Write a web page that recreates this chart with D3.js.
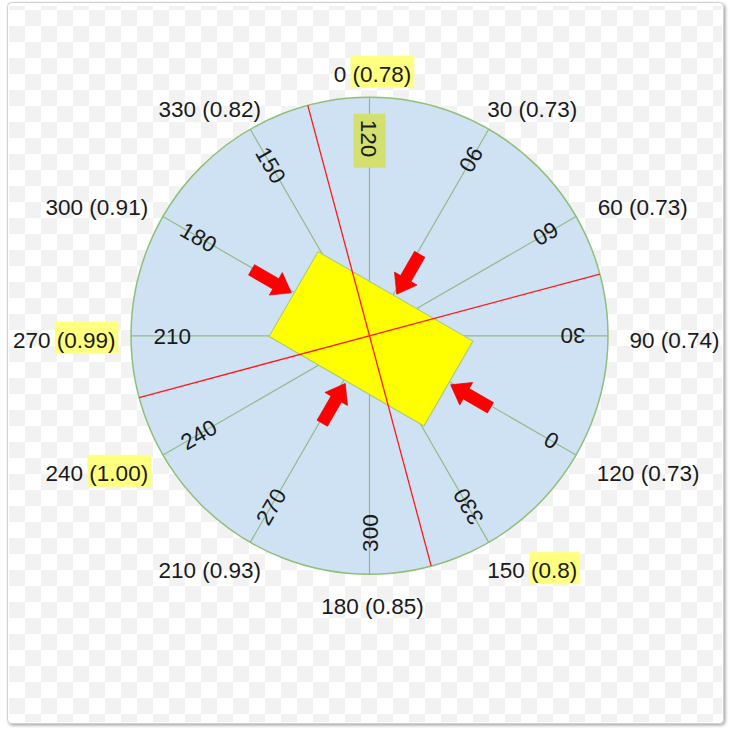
<!DOCTYPE html>
<html>
<head>
<meta charset="utf-8">
<script src="https://cdn.jsdelivr.net/npm/d3@7"></script>
<style>
  html, body { margin: 0; padding: 0; background: #ffffff; }
  svg { display: block; }
  text { font-family: "Liberation Sans", Arial, sans-serif; fill: #1a1a1a; }
</style>
</head>
<body>
<svg id="chart" width="730" height="730"></svg>
<script>
// ---------------- data ----------------
const spokeBearings = [0, 30, 60, 90, 120, 150, 180, 210, 240, 270, 300, 330];
const innerLabels = ["120", "90", "60", "30", "0", "330", "300", "270", "240", "210", "180", "150"];
const innerHighlighted = [true, false, false, false, false, false, false, false, false, false, false, false];
const outerAngles = ["0", "30", "60", "90", "120", "150", "180", "210", "240", "270", "300", "330"];
const outerValues = ["0.78", "0.73", "0.73", "0.74", "0.73", "0.8", "0.85", "0.93", "1.00", "0.99", "0.91", "0.82"];
const outerHighlighted = [true, false, false, false, false, true, false, false, true, true, false, false];
const axisBearings = [75, 165];          // red lines
const buildingBearing = 120;             // long axis of the yellow rectangle
const buildingLength = 0.75;             // fraction of radius
const buildingWidth = 0.411;             // fraction of radius
const arrowBearings = [120, 210, 300, 30];

// ---------------- layout ----------------
const W = 730, H = 730;
const cx = 369.5, cy = 335.8, R = 238.5;
const bOffset = [1.5, 3];                // building centre offset
const FS = 22.5;
const svg = d3.select("#chart");

const angle = d3.scaleLinear().domain([0, 360]).range([0, 2 * Math.PI]);
const rad = d3.scaleLinear().domain([0, 1]).range([0, R]);
function pt(b, r) { const a = angle(b); return [cx + r * Math.sin(a), cy - r * Math.cos(a)]; }

// background / frame
const defs = svg.append("defs");
const pat = defs.append("pattern").attr("id", "checker").attr("patternUnits", "userSpaceOnUse")
  .attr("x", 9).attr("y", -6).attr("width", 32).attr("height", 32);
pat.append("rect").attr("width", 32).attr("height", 32).attr("fill", "#ffffff");
pat.append("rect").attr("width", 16).attr("height", 16).attr("fill", "#f2f2f2");
pat.append("rect").attr("x", 16).attr("y", 16).attr("width", 16).attr("height", 16).attr("fill", "#f2f2f2");
const flt = defs.append("filter").attr("id", "shadow").attr("x", "-5%").attr("y", "-5%").attr("width", "110%").attr("height", "110%");
flt.append("feDropShadow").attr("dx", 1.5).attr("dy", 1.5).attr("stdDeviation", 1.5).attr("flood-color", "#000").attr("flood-opacity", 0.35);

svg.append("rect").attr("x", 7.5).attr("y", 2.5).attr("width", 716).attr("height", 721).attr("rx", 4)
  .attr("fill", "#ffffff").attr("stroke", "#d0d0d0").attr("filter", "url(#shadow)");
svg.append("rect").attr("x", 9).attr("y", 6).attr("width", 713).attr("height", 716).attr("fill", "url(#checker)");

// circle
svg.append("circle").attr("cx", cx).attr("cy", cy).attr("r", rad(1))
  .attr("fill", "#cfe2f3").attr("stroke", "#8fbf78").attr("stroke-width", 1.5);

// spokes
svg.append("g").selectAll("line").data(spokeBearings).join("line")
  .attr("x1", cx).attr("y1", cy)
  .attr("x2", d => pt(d, rad(1))[0]).attr("y2", d => pt(d, rad(1))[1])
  .attr("stroke", "#93bb88").attr("stroke-width", 1.2);

// building rectangle
const bcx = cx + bOffset[0], bcy = cy + bOffset[1];
svg.append("rect")
  .attr("x", -rad(buildingLength) / 2).attr("y", -rad(buildingWidth) / 2)
  .attr("width", rad(buildingLength)).attr("height", rad(buildingWidth))
  .attr("transform", `translate(${bcx},${bcy}) rotate(${buildingBearing - 90})`)
  .attr("fill", "#ffff00").attr("stroke", "#a9c77c").attr("stroke-width", 1);

// red axes
svg.append("g").selectAll("line").data(axisBearings).join("line")
  .attr("x1", d => pt(d, rad(1))[0]).attr("y1", d => pt(d, rad(1))[1])
  .attr("x2", d => pt(d + 180, rad(1))[0]).attr("y2", d => pt(d + 180, rad(1))[1])
  .attr("stroke", "#ff1a1a").attr("stroke-width", 1.3);

// arrows
const arrowShape = [[0, 0], [-18, -13], [-18, -6], [-46, -6], [-46, 6], [-18, 6], [-18, 13]];
svg.append("g").selectAll("polygon").data(arrowBearings).join("polygon")
  .attr("points", arrowShape.map(p => p.join(",")).join(" "))
  .attr("transform", d => {
    const half = ((d - buildingBearing) % 180 === 0) ? rad(buildingLength) / 2 : rad(buildingWidth) / 2;
    const a = angle(d);
    const tx = bcx - (half + 2.5) * Math.sin(a), ty = bcy + (half + 2.5) * Math.cos(a);
    return `translate(${tx},${ty}) rotate(${d - 90})`;
  })
  .attr("fill", "#ff0000").attr("stroke", "#e00000").attr("stroke-width", 0.6);

// inner labels
const innerG = svg.append("g");
spokeBearings.forEach((b, i) => {
  const p = pt(b, rad(0.906));
  const g = innerG.append("g").attr("transform", `translate(${p[0]},${p[1]}) rotate(${b + 90})`);
  if (innerHighlighted[i]) {
    g.append("rect").attr("x", -6).attr("y", -16).attr("width", 54).attr("height", 32)
      .attr("fill", "#d3df6f");
  }
  g.append("text").attr("x", 0).attr("y", 0).attr("dy", "0.36em")
    .attr("font-size", FS).attr("text-anchor", "start").text(innerLabels[i]);
});

// outer labels
const outerG = svg.append("g");
const Rl = 257;
spokeBearings.forEach((b, i) => {
  const g = outerG.append("g");
  const t = g.append("text").attr("font-size", FS).attr("text-anchor", "start");
  const prefix = outerAngles[i] + " ";
  const val = "(" + outerValues[i] + ")";
  t.append("tspan").text(prefix);
  t.append("tspan").text(val);
  const w = t.node().getComputedTextLength();
  const a = angle(b), s = Math.sin(a), c = Math.cos(a);
  const xc = cx + 3 + s * (Rl + w / 2) + 20 * Math.abs(c) * s;
  const yc = cy + 4 - (Rl + 9) * c;
  const x0 = xc - w / 2;
  t.attr("x", x0).attr("y", yc + 0.358 * FS);
  if (outerHighlighted[i]) {
    const pw = t.node().getSubStringLength(0, prefix.length);
    const vw = t.node().getSubStringLength(prefix.length, val.length);
    g.insert("rect", "text").attr("x", x0 + pw - 2).attr("y", yc - 18)
      .attr("width", vw + 5).attr("height", 32).attr("fill", "#ffff80");
  }
});
</script>
</body>
</html>
